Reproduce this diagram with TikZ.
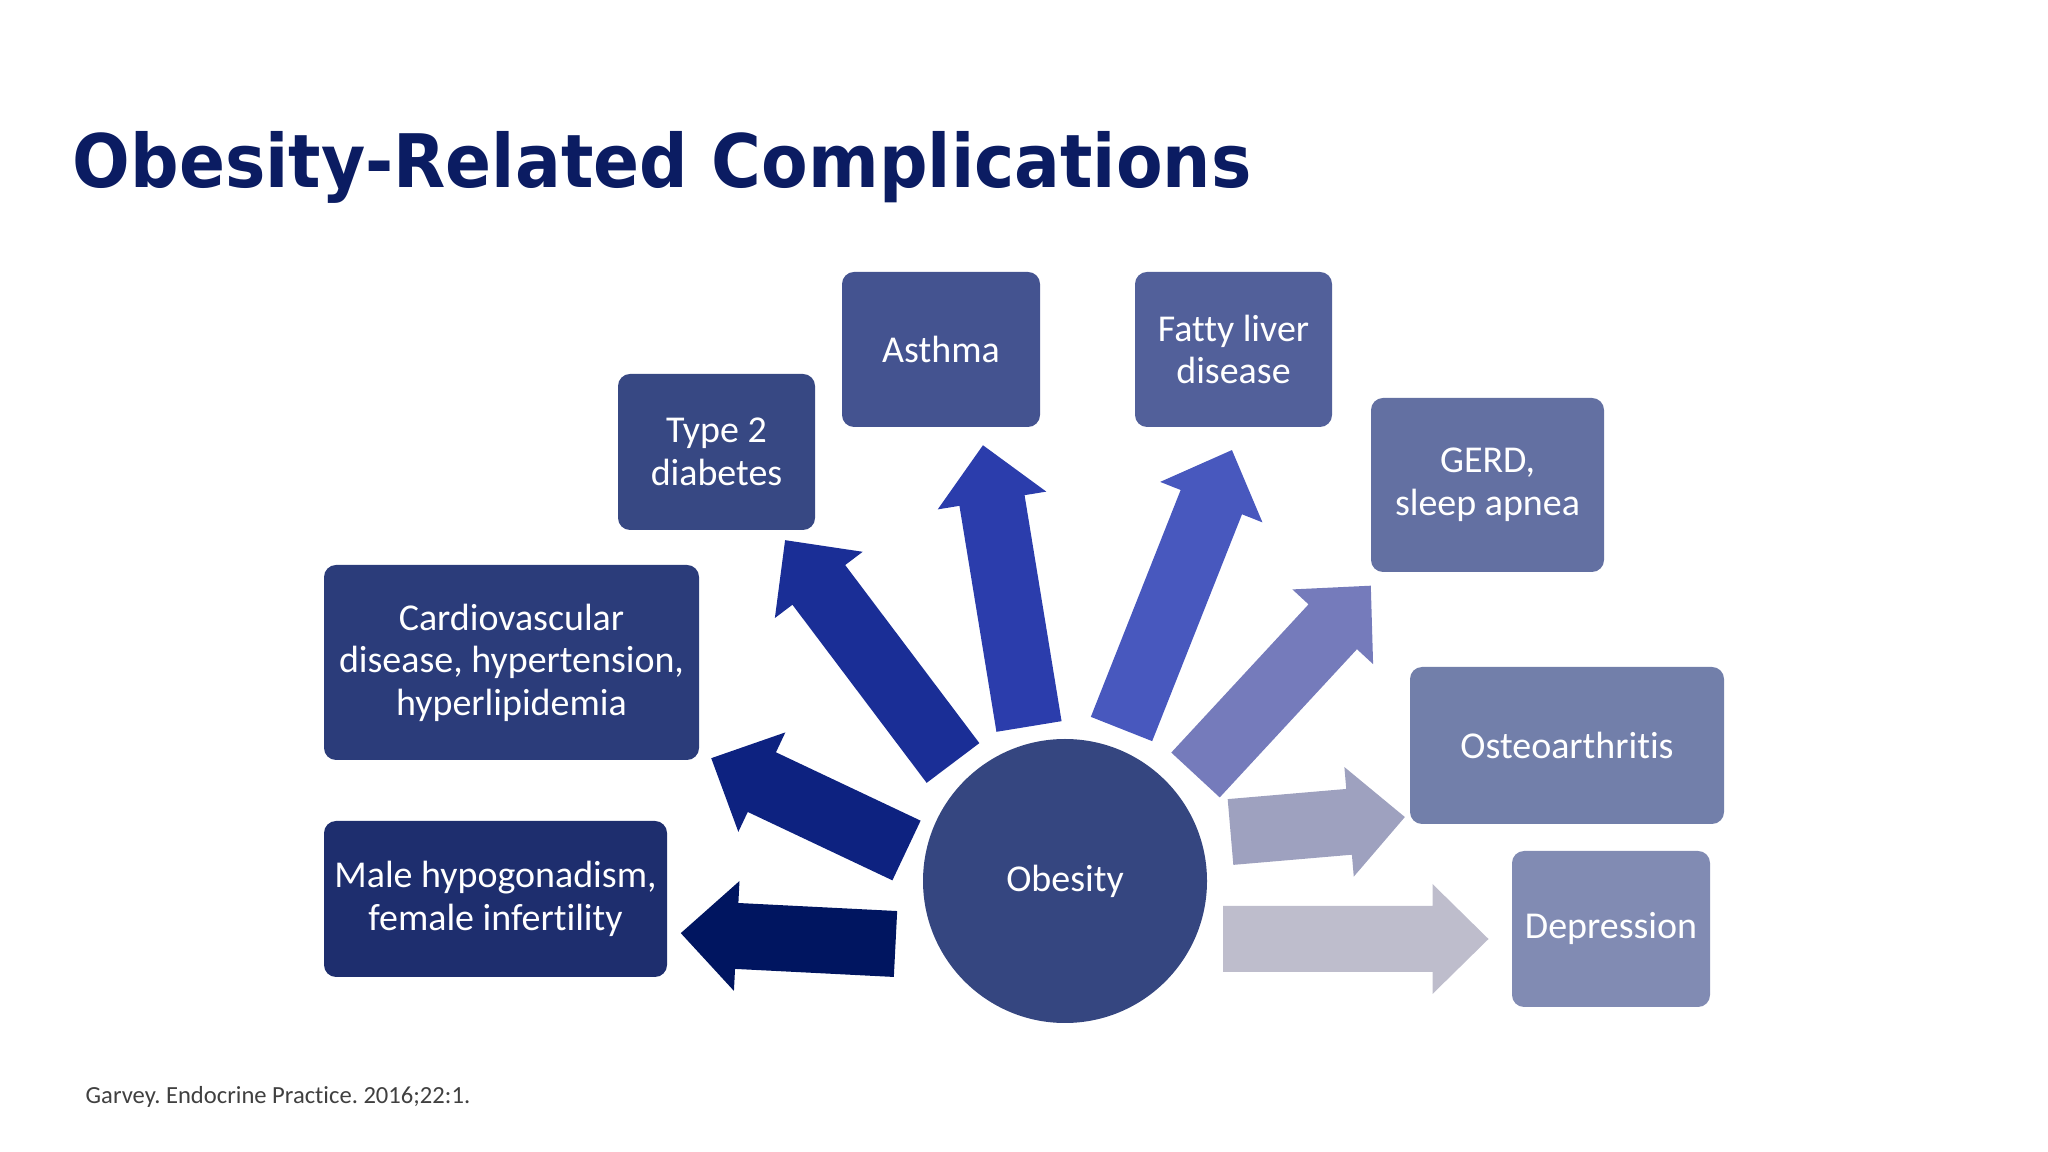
\documentclass[tikz,border=0pt]{standalone}
\usepackage{fontspec}
\setmainfont{Carlito}[Ligatures=NoCommon]
\newfontfamily\titlefont{DejaVu Sans}[FakeStretch=0.92]
\usetikzlibrary{positioning}
\frenchspacing
\definecolor{titleblue}{HTML}{0B1C62}
\definecolor{notegray}{HTML}{404040}
\definecolor{hubfill}{HTML}{354680}
\definecolor{boxa}{HTML}{1E2E6E}
\definecolor{boxb}{HTML}{2B3C7A}
\definecolor{boxc}{HTML}{374883}
\definecolor{boxd}{HTML}{445390}
\definecolor{boxe}{HTML}{52609A}
\definecolor{boxf}{HTML}{6370A2}
\definecolor{boxg}{HTML}{727FAA}
\definecolor{boxh}{HTML}{818BB3}
\definecolor{arra}{HTML}{001560}
\definecolor{arrb}{HTML}{0D2280}
\definecolor{arrc}{HTML}{1A2E96}
\definecolor{arrd}{HTML}{2B3DAC}
\definecolor{arre}{HTML}{4858BE}
\definecolor{arrf}{HTML}{757BBB}
\definecolor{arrg}{HTML}{9EA1BF}
\definecolor{arrh}{HTML}{BEBDCC}
\tikzset{
  cbox/.style  = {rectangle, rounded corners=1.2mm, align=center, text=white,
                  font=\fontsize{10.8}{12.1}\selectfont, inner sep=0pt},
  hub/.style   = {circle, fill=hubfill, text=white, minimum size=28.4mm,
                  font=\fontsize{10.8}{12.1}\selectfont, inner sep=0pt},
  ttl/.style   = {font=\titlefont\bfseries\fontsize{21}{25}\selectfont, text=titleblue, inner sep=0pt},
  note/.style  = {font=\fontsize{7}{8.5}\selectfont, text=notegray, inner sep=0pt},
}

\begin{document}
\begin{tikzpicture}[x=0.1mm, y=-0.1mm]
	\useasboundingbox (0,0) rectangle (2048,1152);
	\node[ttl, anchor=base west] (title) at (72,188) {Obesity-Related Complications};
	% fat arrows, from tail point, angle, length
	\foreach \i/\x/\y in {1/895.5/944, 2/906.5/850.5, 3/953/763, 4/1029/726.5,
		5/1121.5/729, 6/1195.5/775, 7/1230.5/832, 8/1223/939}{
		\coordinate (t\i) at (\x,\y);
	}
	\foreach \i/\a/\l/\c in {1/177.1/215/arra, 2/154.7/216/arrb, 3/127/279/arrc,
		4/99.3/285/arrd, 5/68.4/300/arre, 6/47.2/258/arrf, 7/4.9/175/arrg, 8/0/265.5/arrh}{
		\fill[\c, shift={(t\i)}, rotate=\a] (0,-33) -- ({\l-56},-33) -- ({\l-56},-55) -- (\l,0)
			-- ({\l-56},55) -- ({\l-56},33) -- (0,33) -- cycle;
	}
	\node[hub] (obesity) at (1065,881) {Obesity};
	\foreach \nm/\x/\y/\w/\h/\c/\txt in {
		male/495.5/899/34.3/15.6/boxa/{Male hypogonadism,\\female infertility},
		cardio/511.5/662.5/37.5/19.5/boxb/{Cardiovascular\\disease, hypertension,\\hyperlipidemia},
		diab/716.5/452/19.7/15.6/boxc/{Type 2\\diabetes},
		asthma/941/349.5/19.8/15.5/boxd/{Asthma},
		liver/1233.5/349.5/19.7/15.5/boxe/{Fatty liver\\disease},
		gerd/1487.5/485/23.3/17.4/boxf/{GERD,\\sleep apnea},
		osteo/1567/745.5/31.4/15.7/boxg/{Osteoarthritis},
		depr/1611/929/19.8/15.6/boxh/{Depression}}{
		\node[cbox, fill=\c, minimum width=\w mm, minimum height=\h mm] (\nm) at (\x,\y) {\txt};
	}
	\node[note, anchor=west] (cite) at (85,1097) {Garvey. Endocrine Practice. 2016;22:1.};
\end{tikzpicture}
\end{document}
